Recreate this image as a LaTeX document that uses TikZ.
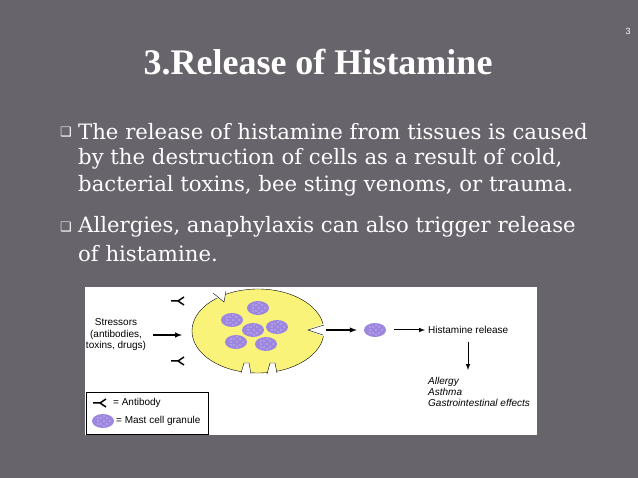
\documentclass[tikz,border=0pt]{standalone}
\usepackage{fontspec}
\setmainfont{Liberation Serif}
\setsansfont{Liberation Sans}
\newfontfamily\symfont{DejaVu Sans}
\newfontfamily\bodyfont{DejaVu Serif}
\usetikzlibrary{positioning,shapes.geometric}
\definecolor{slide}{HTML}{67646B}
\definecolor{cellyellow}{HTML}{FAF37A}
\definecolor{granule}{HTML}{9D86E0}
\tikzset{
  body/.style={anchor=west, text=white, font=\bodyfont\fontsize{21.2}{24}\selectfont, inner sep=0pt},
  bul/.style={anchor=west, text=white, font=\symfont\fontsize{13}{13}\selectfont, inner sep=0pt},
  lab/.style={font=\sffamily\fontsize{10}{11.5}\selectfont, inner sep=0pt},
  arr/.style={-latex, line width=1.4pt}
}
\newcommand{\antibody}[2]{%
  \draw[line width=1.5pt] (#1,#2) ++(-7,0) -- ++(7,0) -- ++(6,-4);
  \draw[line width=1.5pt] (#1,#2) -- ++(6,4);}
\newcommand{\granulegl}[2]{%
  \fill[granule] (#1,#2) ellipse (11 and 7);
  \foreach \dx/\dy in {-5/0,-2/-3,-2/3,1/0,4/-3,4/3,7/0,-5/-3,-5/3,1/-5,1/5}
    {\fill[white!80!granule] (#1+\dx,#2+\dy) circle (0.6);}}
\begin{document}
\begin{tikzpicture}[x=1pt,y=-1pt]
  \fill[slide] (0,0) rectangle (638,478);
  \useasboundingbox (0,0) rectangle (638,478);

  % heading
  \node[text=white, font=\sffamily\fontsize{9}{9}\selectfont] (pg) at (628,31) {3};
  \node[text=white, font=\bfseries\fontsize{36}{40}\selectfont] (title) at (318,62) {3.Release of Histamine};

  % bullets
  \node[bul] (b1) at (60,132) {❑};
  \node[body] (t1) at (78,132) {The release of histamine from tissues is caused};
  \node[body] (t2) at (78,159) {by the destruction of cells as a result of cold,};
  \node[body] (t3) at (78,186) {bacterial toxins, bee sting venoms, or trauma.};
  \node[bul] (b2) at (60,227) {❑};
  \node[body] (t4) at (78,227) {Allergies, anaphylaxis can also trigger release};
  \node[body] (t5) at (78,254) {of histamine.};

  % figure
  \fill[white] (85,287) rectangle (537,435);
  \node[lab, align=center] (stress) at (116,335) {Stressors\\(antibodies,\\toxins, drugs)};
  \coordinate (cellin) at (182,335);
  \draw[arr] (153,335) -- (cellin);
  \antibody{178}{301}
  \antibody{178}{361}

  \node[draw, fill=cellyellow, ellipse, minimum width=132, minimum height=84, inner sep=0pt] (cell) at (258,331) {};
  \filldraw[fill=white, draw=white] (212,294) -- (224,302) -- (226,291) -- cycle;
  \draw (213,293) -- (224,302) -- (226,291);
  \filldraw[fill=white, draw=white] (326,323) -- (308,330) -- (326,337) -- cycle;
  \draw (324,325) -- (308,330) -- (323,335);
  \filldraw[fill=white, draw=white] (240,377) -- (244,363) -- (249,363) -- (252,378) -- cycle;
  \draw (241,373) -- (244,363) -- (249,363) -- (251,374);
  \filldraw[fill=white, draw=white] (266,378) -- (270,363) -- (275,363) -- (278,377) -- cycle;
  \draw (267,374) -- (270,363) -- (275,363) -- (277,373);
  \foreach \gx/\gy in {232/320,258/308,277/327,253/330,236/342,266/344}
    {\granulegl{\gx}{\gy}}

  \coordinate (out) at (326,330);
  \node[minimum width=22, minimum height=14, inner sep=0pt] (free) at (375,330) {};
  \granulegl{375}{330}
  \draw[arr] (out) -- ([xshift=-7pt]free.west);
  \node[lab, anchor=west] (hist) at (428,330) {Histamine release};
  \draw[-latex, line width=1pt] ([xshift=8pt]free.east) -- ([xshift=-3pt]hist.west);
  \node[lab, anchor=north west, align=left, font=\sffamily\itshape\fontsize{10}{11}\selectfont] (eff) at (428,377) {Allergy\\Asthma\\Gastrointestinal effects};
  \draw[-latex, line width=1pt] (468,342) -- (468,370);

  % legend
  \draw[line width=0.8pt] (86,392) rectangle (208,434);
  \antibody{100}{403}
  \node[lab, anchor=west] (lab1) at (113,403) {= Antibody};
  \granulegl{103}{421}
  \node[lab, anchor=west] (lab2) at (116,421) {= Mast cell granule};
\end{tikzpicture}
\end{document}
